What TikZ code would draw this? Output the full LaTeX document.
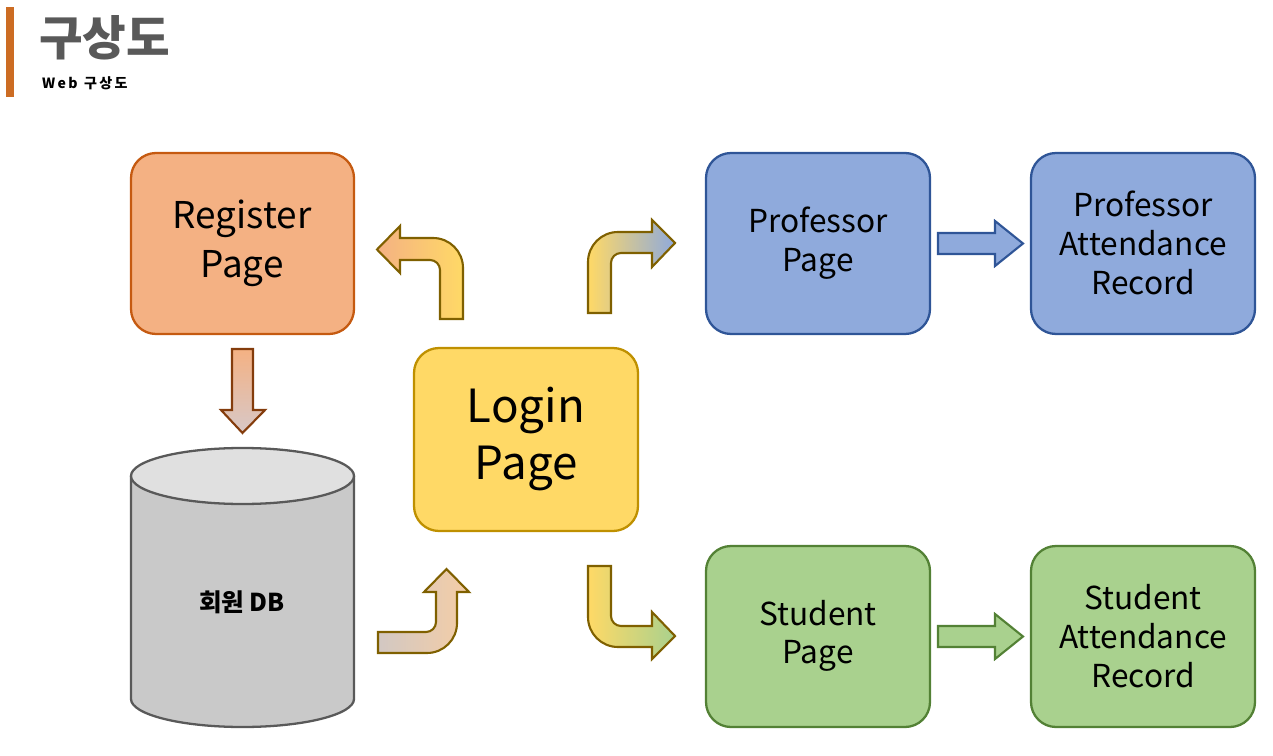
\documentclass[tikz,border=0pt]{standalone}
\usepackage{fontspec}
\setmainfont{Noto Sans CJK KR}
\definecolor{oF}{HTML}{F4B183}\definecolor{oD}{HTML}{C55A11}
\definecolor{yF}{HTML}{FFD966}\definecolor{yD}{HTML}{BF9000}
\definecolor{bF}{HTML}{8FAADC}\definecolor{bD}{HTML}{2F5597}
\definecolor{gF}{HTML}{A9D18E}\definecolor{gD}{HTML}{538135}
\definecolor{aD}{HTML}{7F6000}
\definecolor{barC}{RGB}{204,108,35}
\definecolor{cylF}{RGB}{201,201,201}
\definecolor{cylT}{RGB}{224,224,224}
\definecolor{dbL}{RGB}{210,200,195}
\definecolor{dbR}{RGB}{245,205,165}
\definecolor{rD}{RGB}{132,60,12}
\definecolor{rB}{RGB}{215,200,200}
\definecolor{yb}{RGB}{245,222,170}
\definecolor{yg}{RGB}{240,220,140}
\begin{document}
\begin{tikzpicture}[x=0.02cm,y=-0.02cm,
  box/.style={rounded corners=0.5cm,line width=1.3pt,align=center,inner sep=0pt},
  lbl/.style={font=\fontsize{18}{22}\selectfont,align=center},
  barrow/.style={line width=1.2pt,draw=#1,line join=miter}]
\useasboundingbox (0,0) rectangle (1273,756);
% title
\fill[barC] (6,7) rectangle (14,97);
\node[anchor=west,text=black!65,font=\fontsize{27}{30}\selectfont\bfseries] (title) at (33,38) {구상도};
\node[anchor=west,font=\fontsize{8}{10}\selectfont\bfseries] (sub) at (36,83) {W\,e\,b\ \ 구\,상\,도};
% boxes
\draw[box,fill=oF,draw=oD] (131,153) rectangle (354,334);
\node[lbl,font=\fontsize{21}{28}\selectfont] (reg) at (242,243) {Register\\Page};
\draw[box,fill=yF,draw=yD] (414,348) rectangle (638,531);
\node[lbl,font=\fontsize{26}{33}\selectfont] (login) at (526,439) {Login\\Page};
\draw[box,fill=bF,draw=bD] (706,153) rectangle (930,334);
\node[lbl] (prof) at (818,243) {Professor\\Page};
\draw[box,fill=bF,draw=bD] (1031,153) rectangle (1255,334);
\node[lbl] (profrec) at (1143,243) {Professor\\Attendance\\Record};
\draw[box,fill=gF,draw=gD] (706,546) rectangle (930,727);
\node[lbl] (stu) at (818,636) {Student\\Page};
\draw[box,fill=gF,draw=gD] (1031,546) rectangle (1255,727);
\node[lbl] (sturec) at (1143,636) {Student\\Attendance\\Record};
% cylinder
\draw[fill=cylF,draw=black!65,line width=1.3pt]
  (131,476) -- (131,699) arc[start angle=180,end angle=0,x radius=111.5,y radius=28] -- (354,476);
\draw[fill=cylT,draw=black!65,line width=1.3pt]
  (242.5,476) ellipse[x radius=111.5,y radius=28];
\node[font=\fontsize{14}{18}\selectfont\bfseries] (db) at (242,602) {회원 DB};
% bent arrows
\path[barrow=aD,left color=oF,right color=yF] (463,319) -- (463,268) .. controls (463,251.4) and (449.6,238) .. (433,238) -- (400,238) -- (400,226) -- (377,249.5) -- (400,273) -- (400,260) -- (430,260) .. controls (435.5,260) and (440,264.5) .. (440,270) -- (440,319) -- cycle;
\path[barrow=aD,left color=yF,middle color=yb,right color=bF] (588,313) -- (588,262) .. controls (588,245.4) and (601.4,232) .. (618,232) -- (652,232) -- (652,220) -- (675,243) -- (652,267) -- (652,253) -- (621,253) .. controls (615.5,253) and (611,257.5) .. (611,263) -- (611,313) -- cycle;
\path[barrow=aD,left color=yF,middle color=yg,right color=gF] (588,566) -- (588,617) .. controls (588,633.6) and (601.4,647) .. (618,647) -- (652,647) -- (652,659) -- (675,636) -- (652,612) -- (652,626) -- (621,626) .. controls (615.5,626) and (611,621.5) .. (611,616) -- (611,566) -- cycle;
\path[barrow=aD,left color=dbL,right color=dbR] (378,653) -- (427,653) .. controls (443.6,653) and (457,639.6) .. (457,623) -- (457,592) -- (469,592) -- (446.5,569) -- (424,592) -- (436,592) -- (436,622) .. controls (436,627.5) and (431.5,632) .. (426,632) -- (378,632) -- cycle;
% straight arrows
\path[barrow=rD,top color=oF,bottom color=rB] (232,349) -- (253,349) -- (253,410) -- (265,410) -- (242.5,433) -- (221,410) -- (232,410) -- cycle;
\path[barrow=bD,fill=bF] (938,233) -- (995,233) -- (995,221) -- (1023,243.5) -- (995,266) -- (995,254) -- (938,254) -- cycle;
\path[barrow=gD,fill=gF] (938,626) -- (995,626) -- (995,614) -- (1023,636.5) -- (995,659) -- (995,647) -- (938,647) -- cycle;
\end{tikzpicture}
\end{document}
